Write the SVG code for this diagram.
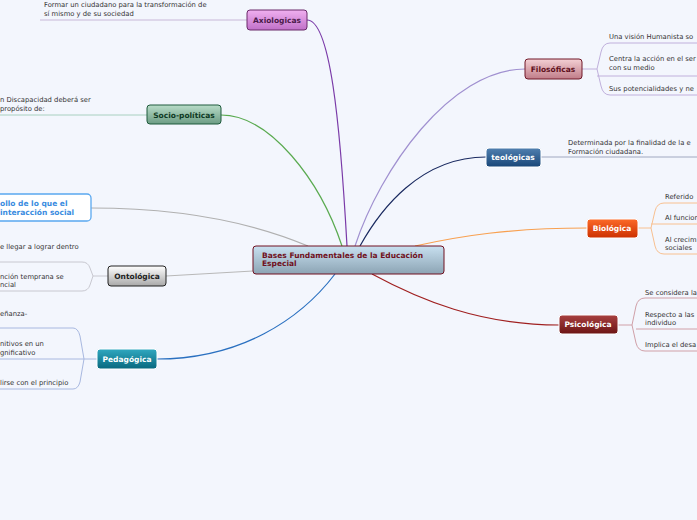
<svg xmlns="http://www.w3.org/2000/svg" width="697" height="520" viewBox="0 0 697 520">
<defs>
<linearGradient id="gAx" x1="0" y1="0" x2="0" y2="1"><stop offset="0" stop-color="#f0b0f0"/><stop offset="1" stop-color="#c070c8"/></linearGradient>
<linearGradient id="gSo" x1="0" y1="0" x2="0" y2="1"><stop offset="0" stop-color="#b8dcc8"/><stop offset="1" stop-color="#6c9c84"/></linearGradient>
<linearGradient id="gOn" x1="0" y1="0" x2="0" y2="1"><stop offset="0" stop-color="#ffffff"/><stop offset="1" stop-color="#a8a8a8"/></linearGradient>
<linearGradient id="gPe" x1="0" y1="0" x2="0" y2="1"><stop offset="0" stop-color="#30a8c0"/><stop offset="1" stop-color="#08687e"/></linearGradient>
<linearGradient id="gCe" x1="0" y1="0" x2="0" y2="1"><stop offset="0" stop-color="#c8e0f0"/><stop offset="1" stop-color="#8ca4b4"/></linearGradient>
<linearGradient id="gFi" x1="0" y1="0" x2="0" y2="1"><stop offset="0" stop-color="#f4d0d4"/><stop offset="1" stop-color="#c07c88"/></linearGradient>
<linearGradient id="gTe" x1="0" y1="0" x2="0" y2="1"><stop offset="0" stop-color="#5080b0"/><stop offset="1" stop-color="#184678"/></linearGradient>
<linearGradient id="gBi" x1="0" y1="0" x2="0" y2="1"><stop offset="0" stop-color="#fc6a28"/><stop offset="1" stop-color="#cc3000"/></linearGradient>
<linearGradient id="gPs" x1="0" y1="0" x2="0" y2="1"><stop offset="0" stop-color="#a84040"/><stop offset="1" stop-color="#6c1414"/></linearGradient>
</defs>
<style>
text{font-family:"DejaVu Sans",Verdana,sans-serif;font-size:6.8px;fill:#333}
.n{font-weight:bold;font-size:7.5px;text-anchor:middle}
.w{fill:#fff}
path{fill:none;stroke-width:1.2}
.l{stroke-width:1}
</style>
<rect width="697" height="520" fill="#f3f6fd"/>
<g id="connectors">
<path d="M307,20 C330,20 340,120 347,246" stroke="#7a3aa8"/>
<path d="M221,115 C270,115 320,180 342,246" stroke="#5aaa50"/>
<path d="M91,208 C200,208 270,230 308,246" stroke="#b0b0b0"/>
<path d="M166,276 L253,271" stroke="#b8b8b8"/>
<path d="M157,359 C240,359 300,320 335,274" stroke="#2a70c0"/>
<path d="M525,69 C450,69 380,170 355,246" stroke="#a090d0"/>
<path d="M486,157 C420,157 380,210 360,246" stroke="#1a2a60"/>
<path d="M587,228 C510,228 460,236 415,246" stroke="#f8a050"/>
<path d="M559,325 C480,325 420,300 372,274" stroke="#a02020"/>
<path class="l" d="M40,20 H247" stroke="#c8b8d8"/>
<path class="l" d="M0,115 H147" stroke="#a8d0c0"/>
<path class="l" d="M0,262 H82 Q88,262 90,268 L93,276 L90,285 Q88,291 82,291 H0 M93,276 H108" stroke="#c8c8d0"/>
<path class="l" d="M0,328 H73 Q78,328 80,336 L84,359 L80,382 Q78,389 73,389 H0 M0,359 H97" stroke="#a8b8e0"/>
<path class="l" d="M582,69 H597 L601,52 Q603,43 610,43 H697 M597,69 L601,86 Q603,95 610,95 H697 M597,76 H697" stroke="#c0b0dc"/>
<path class="l" d="M541,157 H697" stroke="#a0a8c0"/>
<path class="l" d="M638,228 H651 L655,211 Q657,203 664,203 H697 M651,228 L655,246 Q657,254 664,254 H697 M651,224 H697" stroke="#f8c090"/>
<path class="l" d="M618,325 H632 L636,306 Q638,298 645,298 H697 M632,325 L636,343 Q638,351 645,351 H697 M636,329 H697" stroke="#d0a0a8"/>
</g>
<g id="center"><rect x="253" y="246" width="191" height="28" rx="3" fill="url(#gCe)" stroke="#701020"/>
<text x="262" y="258" style="font-weight:bold;font-size:7.5px;fill:#701020">Bases Fundamentales de la Educación</text>
<text x="262" y="266" style="font-weight:bold;font-size:7.5px;fill:#701020">Especial</text></g>
<g id="axiologicas"><rect x="247" y="10" width="60" height="20" rx="3" fill="url(#gAx)" stroke="#6a2a6a"/><text class="n" x="277" y="23" style="fill:#4a1a4a">Axiologicas</text>
<text x="44" y="7">Formar un ciudadano para la transformación de</text><text x="44" y="16">sí mismo y de su sociedad</text></g>
<g id="socio"><rect x="147" y="105" width="74" height="19" rx="3" fill="url(#gSo)" stroke="#1e5a3c"/><text class="n" x="184" y="118" style="fill:#0e3a24">Socio-políticas</text>
<text x="0" y="102">n Discapacidad deberá ser</text><text x="0" y="111">propósito de:</text></g>
<g id="social"><rect x="-10" y="194" width="101" height="27" rx="4" fill="#fff" stroke="#5aa8f0" stroke-width="1.3"/>
<text x="0" y="206" style="font-weight:bold;font-size:7.5px;fill:#3a8ce0">ollo de lo que el</text><text x="0" y="215" style="font-weight:bold;font-size:7.5px;fill:#3a8ce0">interacción social</text></g>
<g id="ontologica"><rect x="108" y="266" width="58" height="20" rx="3" fill="url(#gOn)" stroke="#222"/><text class="n" x="137" y="279" style="fill:#222">Ontológica</text>
<text x="0" y="249">e llegar a lograr dentro</text><text x="0" y="279">nción temprana se</text><text x="0" y="287">ncial</text></g>
<g id="pedagogica"><rect x="97" y="349" width="60" height="20" rx="3" fill="url(#gPe)" stroke="#fff"/><text class="n w" x="127" y="362">Pedagógica</text>
<text x="0" y="316">eñanza-</text><text x="0" y="346">nitivos en un</text><text x="0" y="355">gnificativo</text><text x="0" y="385">lirse con el principio</text></g>
<g id="filosoficas"><rect x="525" y="59" width="57" height="20" rx="3" fill="url(#gFi)" stroke="#701828"/><text class="n" x="553" y="72" style="fill:#601020">Filosóficas</text>
<text x="609" y="39">Una visión Humanista so</text><text x="609" y="61">Centra la acción en el ser</text><text x="609" y="70">con su medio</text><text x="609" y="91">Sus potencialidades y ne</text></g>
<g id="teologicas"><rect x="486" y="148" width="55" height="19" rx="3" fill="url(#gTe)" stroke="#fff"/><text class="n w" x="513" y="160">teológicas</text>
<text x="568" y="145">Determinada por la  finalidad de la e</text><text x="568" y="154">Formación ciudadana.</text></g>
<g id="biologica"><rect x="587" y="219" width="51" height="19" rx="3" fill="url(#gBi)" stroke="#fff"/><text class="n w" x="612" y="231">Biológica</text>
<text x="665" y="199">Referido</text><text x="665" y="220">Al funcion</text><text x="665" y="242">Al crecim</text><text x="665" y="250">sociales</text></g>
<g id="psicologica"><rect x="559" y="315" width="59" height="19" rx="3" fill="url(#gPs)" stroke="#fff"/><text class="n w" x="588" y="327">Psicológica</text>
<text x="645" y="295">Se considera la</text><text x="645" y="317">Respecto a las</text><text x="645" y="325">individuo</text><text x="645" y="347">Implica el desa</text></g>
</svg>
